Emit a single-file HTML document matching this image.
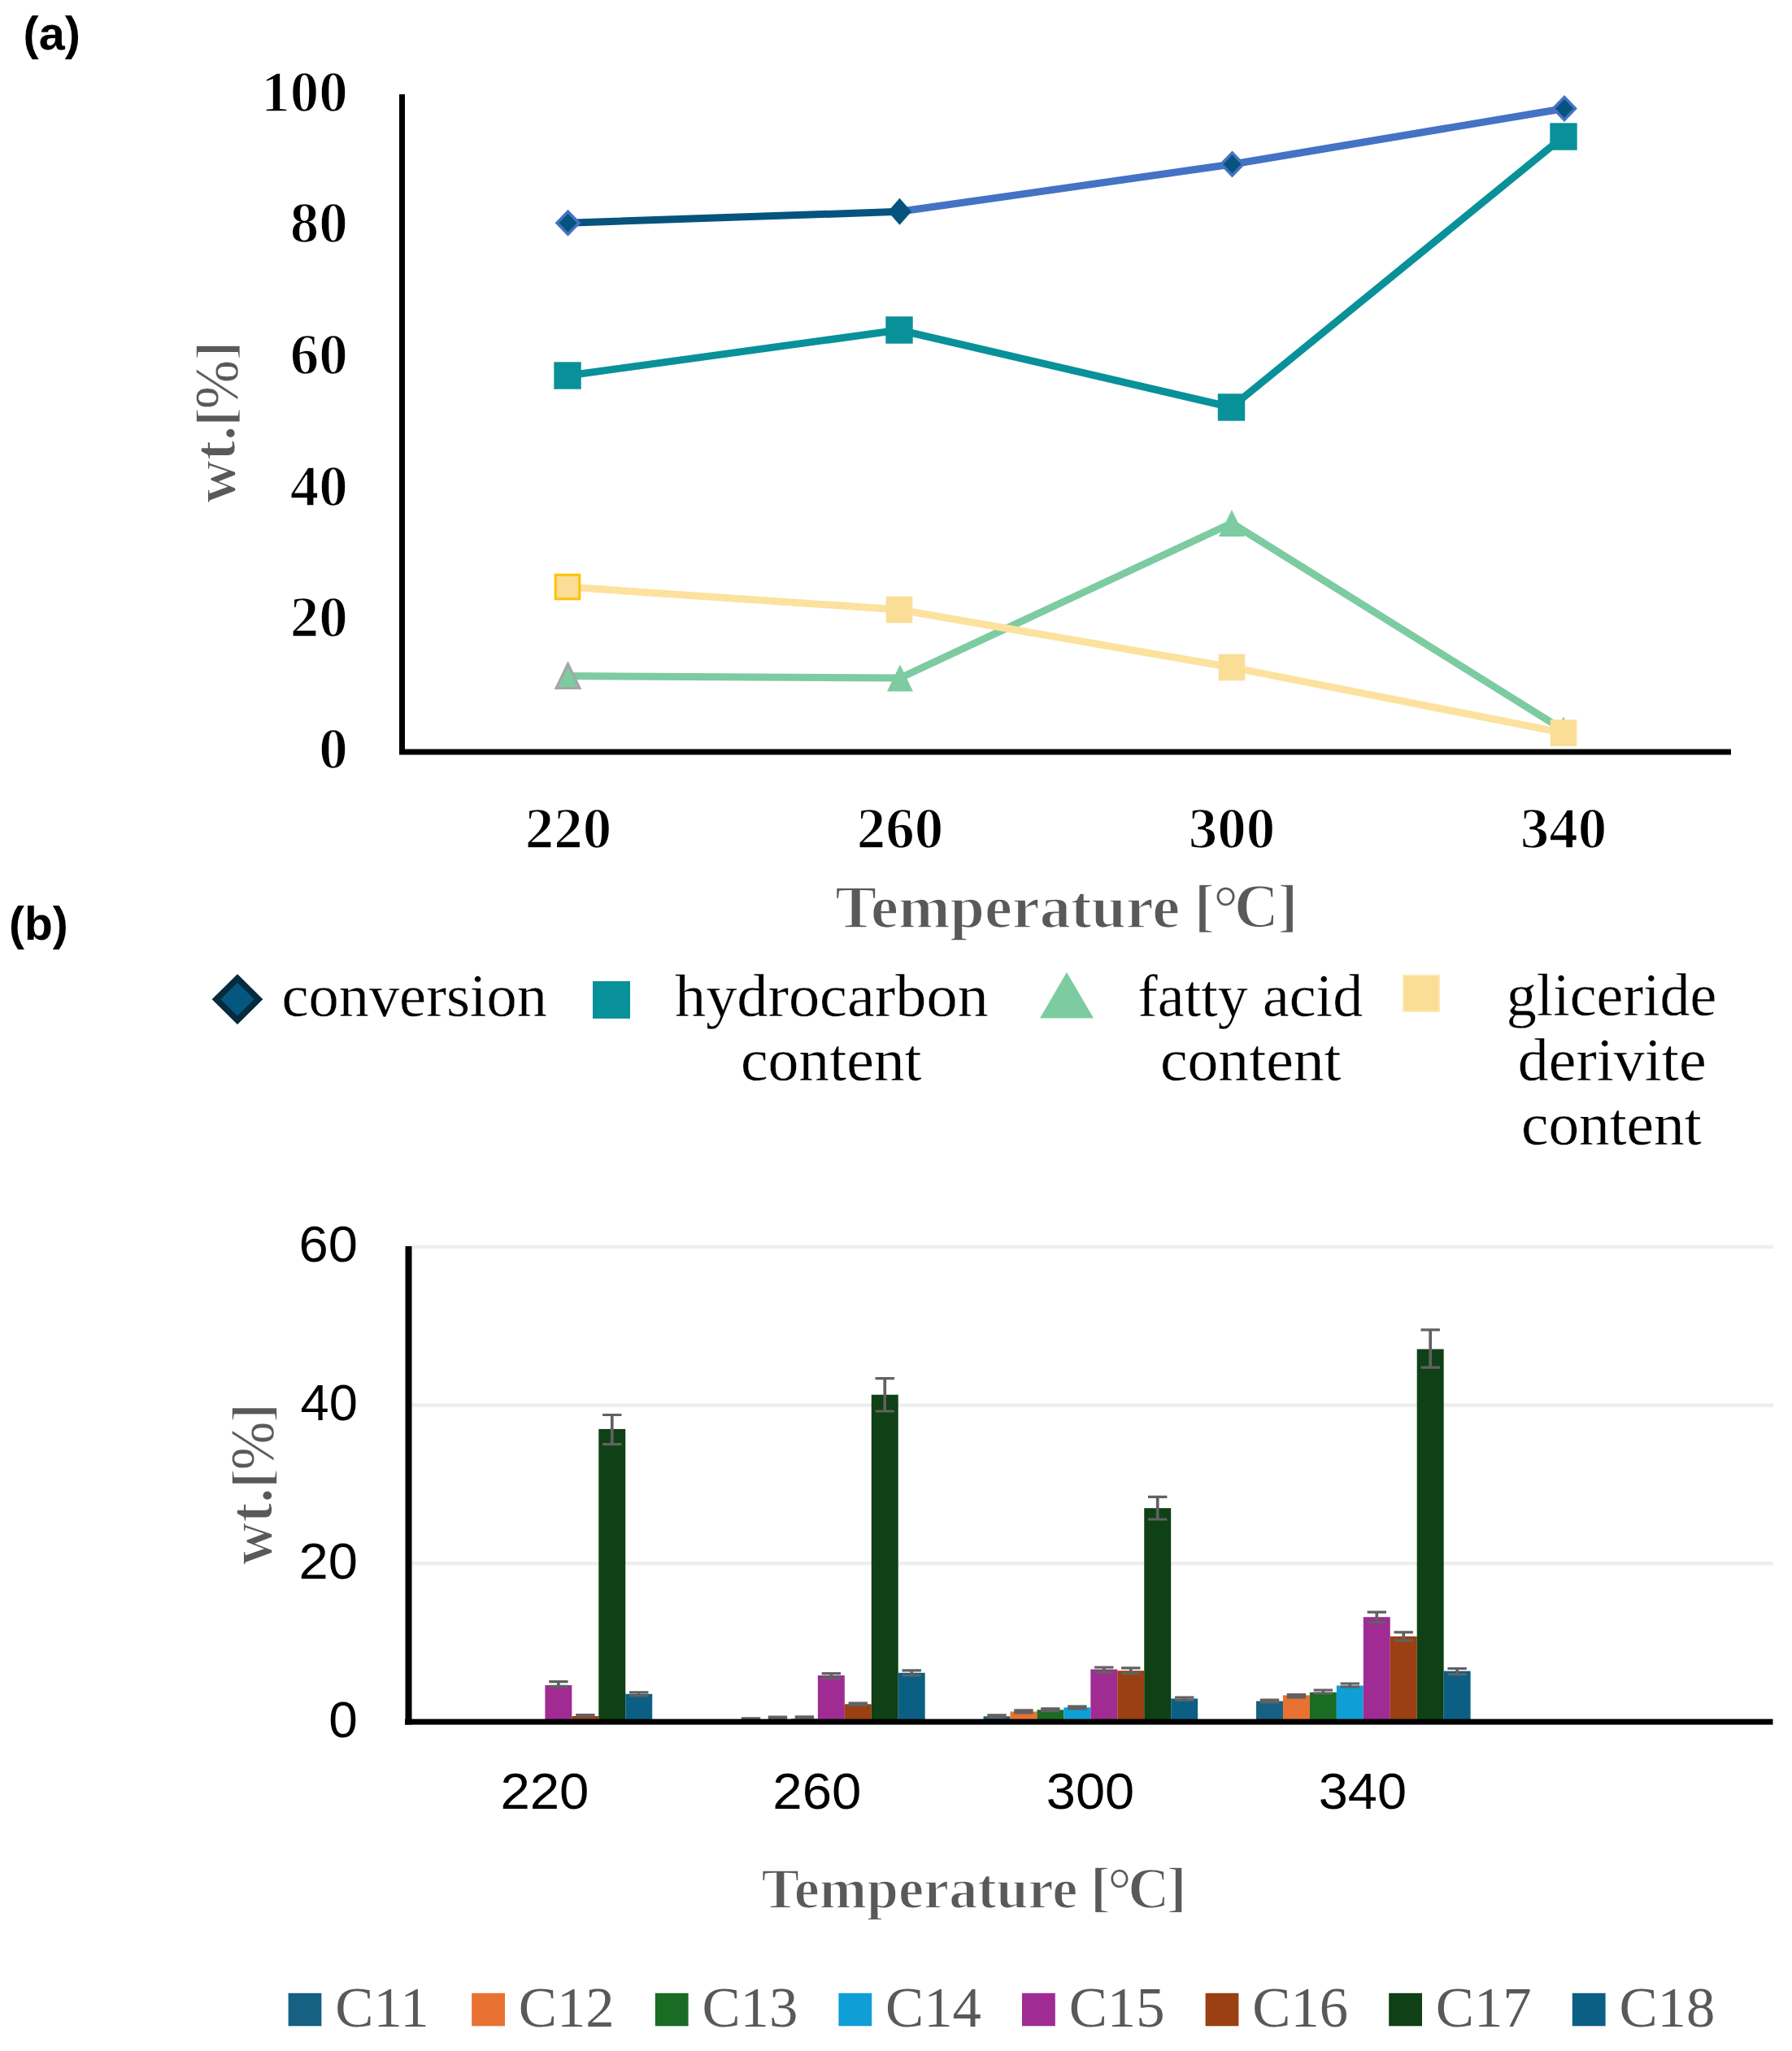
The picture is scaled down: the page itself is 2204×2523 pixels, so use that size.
<!DOCTYPE html>
<html><head><meta charset="utf-8"><title>Figure</title>
<style>html,body{margin:0;padding:0;background:#fff;} svg{display:block;} .eb{stroke:#fff;stroke-width:1.6;} .er{stroke:#fff;stroke-width:0.35;}</style>
</head><body>
<svg width="2204" height="2523" viewBox="0 0 2204 2523">
<rect x="0" y="0" width="2204" height="2523" fill="#ffffff"/>
<text x="28.52" y="60.50" font-family="'Liberation Sans', Arial, sans-serif" font-weight="bold" font-size="57.5" fill="#000">(a)</text>
<text x="10.95" y="1156.20" font-family="'Liberation Sans', Arial, sans-serif" font-weight="bold" font-size="57" fill="#000">(b)</text>
<text class="eb" x="321.34" y="136.80" font-family="'Liberation Serif', serif" font-weight="bold" font-size="71" fill="#000">100</text>
<text class="eb" x="356.84" y="298.40" font-family="'Liberation Serif', serif" font-weight="bold" font-size="71" fill="#000">80</text>
<text class="eb" x="356.84" y="460.00" font-family="'Liberation Serif', serif" font-weight="bold" font-size="71" fill="#000">60</text>
<text class="eb" x="356.84" y="621.60" font-family="'Liberation Serif', serif" font-weight="bold" font-size="71" fill="#000">40</text>
<text class="eb" x="356.84" y="783.20" font-family="'Liberation Serif', serif" font-weight="bold" font-size="71" fill="#000">20</text>
<text class="eb" x="392.34" y="944.80" font-family="'Liberation Serif', serif" font-weight="bold" font-size="71" fill="#000">0</text>
<text class="eb" x="699" y="1042.5" text-anchor="middle" font-family="'Liberation Serif', serif" font-weight="bold" font-size="71" fill="#000">220</text>
<text class="eb" x="1107" y="1042.5" text-anchor="middle" font-family="'Liberation Serif', serif" font-weight="bold" font-size="71" fill="#000">260</text>
<text class="eb" x="1515" y="1042.5" text-anchor="middle" font-family="'Liberation Serif', serif" font-weight="bold" font-size="71" fill="#000">300</text>
<text class="eb" x="1923" y="1042.5" text-anchor="middle" font-family="'Liberation Serif', serif" font-weight="bold" font-size="71" fill="#000">340</text>
<text class="eb" x="1027.15" y="1140.50" font-family="'Liberation Serif', serif" font-weight="bold" font-size="75" fill="#595959" textLength="424.04" lengthAdjust="spacingAndGlyphs">Temperature</text>
<text class="eb" x="1468.74" y="1137.69" font-family="'Liberation Serif', serif" font-weight="bold" font-size="72.65" fill="#595959" textLength="25.13" lengthAdjust="spacingAndGlyphs">[</text>
<text class="eb" x="1491.99" y="1144.04" font-family="'Liberation Serif', serif" font-weight="bold" font-size="80.66" fill="#595959" textLength="31.21" lengthAdjust="spacingAndGlyphs">°</text>
<text class="eb" x="1518.02" y="1140.34" font-family="'Liberation Serif', serif" font-weight="bold" font-size="76.28" fill="#595959" textLength="54.62" lengthAdjust="spacingAndGlyphs">C</text>
<text class="eb" x="1571.50" y="1137.69" font-family="'Liberation Serif', serif" font-weight="bold" font-size="72.65" fill="#595959" textLength="24.72" lengthAdjust="spacingAndGlyphs">]</text>
<text class="eb" transform="translate(289.28,618.78) rotate(-90)" x="0" y="0" font-family="'Liberation Serif', serif" font-weight="bold" font-size="74.83" fill="#595959" textLength="94.99" lengthAdjust="spacingAndGlyphs">wt.</text>
<text class="eb" transform="translate(287.32,524.83) rotate(-90)" x="0" y="0" font-family="'Liberation Serif', serif" font-weight="bold" font-size="66.51" fill="#595959" textLength="24.10" lengthAdjust="spacingAndGlyphs">[</text>
<text class="er" transform="translate(291.65,503.13) rotate(-90)" x="0" y="0" font-family="'Liberation Serif', serif" font-weight="normal" font-size="76.01" fill="#595959" textLength="60.11" lengthAdjust="spacingAndGlyphs">%</text>
<text class="eb" transform="translate(287.32,443.60) rotate(-90)" x="0" y="0" font-family="'Liberation Serif', serif" font-weight="bold" font-size="66.51" fill="#595959" textLength="23.83" lengthAdjust="spacingAndGlyphs">]</text>
<rect x="491" y="116" width="7" height="811" fill="#000"/>
<rect x="491" y="921.5" width="1638" height="7" fill="#000"/>
<line x1="698.5" y1="274.3" x2="1106.5" y2="260.3" stroke="#06547D" stroke-width="9" stroke-linecap="round"/>
<polyline points="1106.5,260.3 1515.5,202 1924,133.5" fill="none" stroke="#4472C4" stroke-width="9" stroke-linejoin="round" stroke-linecap="round"/>
<polygon points="698.5,260.3 712.0,274.3 698.5,288.3 685.0,274.3" fill="#06547D" stroke="#4472C4" stroke-width="3.5"/>
<polygon points="1106.5,243.8 1121.0,260.3 1106.5,276.8 1092.0,260.3" fill="#06547D"/>
<polygon points="1515.5,188 1529.0,202 1515.5,216 1502.0,202" fill="#06547D" stroke="#4472C4" stroke-width="3.5"/>
<polygon points="1924,119.5 1937.5,133.5 1924,147.5 1910.5,133.5" fill="#06547D" stroke="#4472C4" stroke-width="3.5"/>
<polyline points="698,462 1106,406 1514.5,501 1923,168" fill="none" stroke="#099199" stroke-width="9" stroke-linejoin="round" stroke-linecap="round"/>
<rect x="681.3" y="445.3" width="33.4" height="33.4" fill="#099199"/>
<rect x="1089.3" y="389.3" width="33.4" height="33.4" fill="#099199"/>
<rect x="1497.8" y="484.3" width="33.4" height="33.4" fill="#099199"/>
<rect x="1906.3" y="151.3" width="33.4" height="33.4" fill="#099199"/>
<polyline points="698.5,831.5 1107,834 1515,643.5 1923,898" fill="none" stroke="#7DCBA1" stroke-width="9" stroke-linejoin="round" stroke-linecap="round"/>
<polygon points="698.5,816.5 713.0,846.5 684.0,846.5" fill="#7DCBA1" stroke="#A5A5A5" stroke-width="3" stroke-linejoin="miter"/>
<polygon points="1107,817.5 1123,850.5 1091,850.5" fill="#7DCBA1"/>
<polygon points="1515,627.0 1531,660.0 1499,660.0" fill="#7DCBA1"/>
<polygon points="1923,881.5 1939,914.5 1907,914.5" fill="#7DCBA1"/>
<polyline points="698,722 1106,750 1515,821 1923,901.6" fill="none" stroke="#FCE29E" stroke-width="9" stroke-linejoin="round" stroke-linecap="round"/>
<rect x="683.2" y="707.2" width="29.6" height="29.6" fill="#FADD96" stroke="#FFC000" stroke-width="3"/>
<rect x="1089.7" y="733.7" width="32.6" height="32.6" fill="#FADD96"/>
<rect x="1498.7" y="804.7" width="32.6" height="32.6" fill="#FADD96"/>
<rect x="1906.7" y="885.3000000000001" width="32.6" height="32.6" fill="#FADD96"/>
<polygon points="292,1203.5 318,1229.2 292,1255 266,1229.2" fill="#055780" stroke="#062A3E" stroke-width="7.5"/>
<rect x="729" y="1207" width="46" height="46" fill="#099199"/>
<polygon points="1312,1196 1345,1252.6 1279,1252.6" fill="#7DCBA1"/>
<rect x="1726" y="1200" width="44" height="44" fill="#FADD96" stroke="#FDE8AE" stroke-width="2"/>
<text class="er" x="346.52" y="1249.50" font-family="'Liberation Serif', serif" font-weight="normal" font-size="73" fill="#000" textLength="326.42" lengthAdjust="spacingAndGlyphs">conversion</text>
<text class="er" x="830.04" y="1250.00" font-family="'Liberation Serif', serif" font-weight="normal" font-size="73" fill="#000" textLength="385.71" lengthAdjust="spacingAndGlyphs">hydrocarbon</text>
<text class="er" x="910.97" y="1329.40" font-family="'Liberation Serif', serif" font-weight="normal" font-size="73" fill="#000" textLength="222.65" lengthAdjust="spacingAndGlyphs">content</text>
<text class="er" x="1399.28" y="1249.60" font-family="'Liberation Serif', serif" font-weight="normal" font-size="73" fill="#000" textLength="276.80" lengthAdjust="spacingAndGlyphs">fatty acid</text>
<text class="er" x="1426.97" y="1328.70" font-family="'Liberation Serif', serif" font-weight="normal" font-size="73" fill="#000" textLength="222.65" lengthAdjust="spacingAndGlyphs">content</text>
<text class="er" x="1852.67" y="1249.00" font-family="'Liberation Serif', serif" font-weight="normal" font-size="73" fill="#000" textLength="258.77" lengthAdjust="spacingAndGlyphs">gliceride</text>
<text class="er" x="1866.84" y="1328.50" font-family="'Liberation Serif', serif" font-weight="normal" font-size="73" fill="#000" textLength="231.75" lengthAdjust="spacingAndGlyphs">derivite</text>
<text class="er" x="1870.99" y="1408.00" font-family="'Liberation Serif', serif" font-weight="normal" font-size="73" fill="#000" textLength="221.64" lengthAdjust="spacingAndGlyphs">content</text>
<rect x="506" y="1531.55" width="1675" height="4.5" fill="#EEEEEE"/>
<rect x="506" y="1726.25" width="1675" height="4.5" fill="#EEEEEE"/>
<rect x="506" y="1920.95" width="1675" height="4.5" fill="#EEEEEE"/>
<text x="367.55" y="1552.10" font-family="'Liberation Sans', Arial, sans-serif" font-weight="normal" font-size="63" fill="#000" textLength="72.38" lengthAdjust="spacingAndGlyphs">60</text>
<text x="369.54" y="1746.90" font-family="'Liberation Sans', Arial, sans-serif" font-weight="normal" font-size="63" fill="#000" textLength="70.33" lengthAdjust="spacingAndGlyphs">40</text>
<text x="367.55" y="1941.70" font-family="'Liberation Sans', Arial, sans-serif" font-weight="normal" font-size="63" fill="#000" textLength="72.38" lengthAdjust="spacingAndGlyphs">20</text>
<text x="404.24" y="2136.50" font-family="'Liberation Sans', Arial, sans-serif" font-weight="normal" font-size="63" fill="#000" textLength="35.57" lengthAdjust="spacingAndGlyphs">0</text>
<text x="615.43" y="2224.60" font-family="'Liberation Sans', Arial, sans-serif" font-weight="normal" font-size="63" fill="#000" textLength="108.98" lengthAdjust="spacingAndGlyphs">220</text>
<text x="950.33" y="2224.60" font-family="'Liberation Sans', Arial, sans-serif" font-weight="normal" font-size="63" fill="#000" textLength="108.98" lengthAdjust="spacingAndGlyphs">260</text>
<text x="1286.80" y="2224.60" font-family="'Liberation Sans', Arial, sans-serif" font-weight="normal" font-size="63" fill="#000" textLength="108.30" lengthAdjust="spacingAndGlyphs">300</text>
<text x="1621.70" y="2224.60" font-family="'Liberation Sans', Arial, sans-serif" font-weight="normal" font-size="63" fill="#000" textLength="108.30" lengthAdjust="spacingAndGlyphs">340</text>
<text class="eb" x="936.45" y="2346.50" font-family="'Liberation Serif', serif" font-weight="bold" font-size="70" fill="#595959">Temperature</text>
<text class="eb" x="1340.71" y="2343.66" font-family="'Liberation Serif', serif" font-weight="bold" font-size="68.43" fill="#595959" textLength="24.83" lengthAdjust="spacingAndGlyphs">[</text>
<text class="eb" x="1362.04" y="2351.24" font-family="'Liberation Serif', serif" font-weight="bold" font-size="77.36" fill="#595959" textLength="29.90" lengthAdjust="spacingAndGlyphs">°</text>
<text class="eb" x="1387.28" y="2346.89" font-family="'Liberation Serif', serif" font-weight="bold" font-size="71.08" fill="#595959" textLength="50.86" lengthAdjust="spacingAndGlyphs">C</text>
<text class="eb" x="1434.87" y="2343.66" font-family="'Liberation Serif', serif" font-weight="bold" font-size="68.43" fill="#595959" textLength="25.02" lengthAdjust="spacingAndGlyphs">]</text>
<text class="eb" transform="translate(333.76,1925.08) rotate(-90)" x="0" y="0" font-family="'Liberation Serif', serif" font-weight="bold" font-size="75.86" fill="#595959" textLength="94.47" lengthAdjust="spacingAndGlyphs">wt.</text>
<text class="eb" transform="translate(331.55,1831.33) rotate(-90)" x="0" y="0" font-family="'Liberation Serif', serif" font-weight="bold" font-size="68.55" fill="#595959" textLength="24.99" lengthAdjust="spacingAndGlyphs">[</text>
<text class="er" transform="translate(335.55,1808.30) rotate(-90)" x="0" y="0" font-family="'Liberation Serif', serif" font-weight="normal" font-size="76.01" fill="#595959" textLength="59.56" lengthAdjust="spacingAndGlyphs">%</text>
<text class="eb" transform="translate(331.55,1749.90) rotate(-90)" x="0" y="0" font-family="'Liberation Serif', serif" font-weight="bold" font-size="68.55" fill="#595959" textLength="23.83" lengthAdjust="spacingAndGlyphs">]</text>
<rect x="670.40" y="2073.00" width="32.95" height="45.00" fill="#A02B93"/>
<rect x="703.35" y="2111.00" width="32.95" height="7.00" fill="#9A4012"/>
<rect x="736.30" y="1757.90" width="32.95" height="360.10" fill="#0F4016"/>
<rect x="769.25" y="2083.80" width="32.95" height="34.20" fill="#0C5F84"/>
<rect x="907.02" y="2115.50" width="32.95" height="2.50" fill="#E97132"/>
<rect x="939.97" y="2115.00" width="32.95" height="3.00" fill="#1A6B24"/>
<rect x="972.92" y="2114.00" width="32.95" height="4.00" fill="#0F9ED5"/>
<rect x="1005.87" y="2061.00" width="32.95" height="57.00" fill="#A02B93"/>
<rect x="1038.82" y="2096.30" width="32.95" height="21.70" fill="#9A4012"/>
<rect x="1071.77" y="1715.70" width="32.95" height="402.30" fill="#0F4016"/>
<rect x="1104.72" y="2057.80" width="32.95" height="60.20" fill="#0C5F84"/>
<rect x="1209.54" y="2111.30" width="32.95" height="6.70" fill="#166083"/>
<rect x="1242.49" y="2105.50" width="32.95" height="12.50" fill="#E97132"/>
<rect x="1275.44" y="2103.30" width="32.95" height="14.70" fill="#1A6B24"/>
<rect x="1308.39" y="2100.40" width="32.95" height="17.60" fill="#0F9ED5"/>
<rect x="1341.34" y="2053.50" width="32.95" height="64.50" fill="#A02B93"/>
<rect x="1374.29" y="2055.20" width="32.95" height="62.80" fill="#9A4012"/>
<rect x="1407.24" y="1855.20" width="32.95" height="262.80" fill="#0F4016"/>
<rect x="1440.19" y="2089.50" width="32.95" height="28.50" fill="#0C5F84"/>
<rect x="1545.01" y="2092.60" width="32.95" height="25.40" fill="#166083"/>
<rect x="1577.96" y="2085.40" width="32.95" height="32.60" fill="#E97132"/>
<rect x="1610.91" y="2081.80" width="32.95" height="36.20" fill="#1A6B24"/>
<rect x="1643.86" y="2073.50" width="32.95" height="44.50" fill="#0F9ED5"/>
<rect x="1676.81" y="1989.20" width="32.95" height="128.80" fill="#A02B93"/>
<rect x="1709.76" y="2013.00" width="32.95" height="105.00" fill="#9A4012"/>
<rect x="1742.71" y="1659.60" width="32.95" height="458.40" fill="#0F4016"/>
<rect x="1775.66" y="2055.60" width="32.95" height="62.40" fill="#0C5F84"/>
<path d="M686.88,2068.7 V2074.3" stroke="#616161" stroke-width="3.7" fill="none"/>
<path d="M675.18,2068.7 H698.58 M675.18,2074.3 H698.58" stroke="#616161" stroke-width="3.2" fill="none"/>
<path d="M719.83,2109.6 V2110.6" stroke="#616161" stroke-width="3.7" fill="none"/>
<path d="M708.13,2109.6 H731.53 M708.13,2110.6 H731.53" stroke="#616161" stroke-width="3.2" fill="none"/>
<path d="M752.78,1740.5 V1776.7" stroke="#616161" stroke-width="3.7" fill="none"/>
<path d="M741.08,1740.5 H764.48 M741.08,1776.7 H764.48" stroke="#616161" stroke-width="3.2" fill="none"/>
<path d="M785.73,2081.9 V2086" stroke="#616161" stroke-width="3.7" fill="none"/>
<path d="M774.03,2081.9 H797.43 M774.03,2086 H797.43" stroke="#616161" stroke-width="3.2" fill="none"/>
<path d="M923.50,2113.8 V2115" stroke="#616161" stroke-width="3.7" fill="none"/>
<path d="M911.80,2113.8 H935.20 M911.80,2115 H935.20" stroke="#616161" stroke-width="3.2" fill="none"/>
<path d="M956.45,2112 V2113.6" stroke="#616161" stroke-width="3.7" fill="none"/>
<path d="M944.75,2112 H968.15 M944.75,2113.6 H968.15" stroke="#616161" stroke-width="3.2" fill="none"/>
<path d="M989.40,2111.8 V2113.4" stroke="#616161" stroke-width="3.7" fill="none"/>
<path d="M977.70,2111.8 H1001.10 M977.70,2113.4 H1001.10" stroke="#616161" stroke-width="3.2" fill="none"/>
<path d="M1022.35,2058.6 V2064.3" stroke="#616161" stroke-width="3.7" fill="none"/>
<path d="M1010.65,2058.6 H1034.05 M1010.65,2064.3 H1034.05" stroke="#616161" stroke-width="3.2" fill="none"/>
<path d="M1055.30,2095 V2097.5" stroke="#616161" stroke-width="3.7" fill="none"/>
<path d="M1043.60,2095 H1067.00 M1043.60,2097.5 H1067.00" stroke="#616161" stroke-width="3.2" fill="none"/>
<path d="M1088.25,1695.7 V1736" stroke="#616161" stroke-width="3.7" fill="none"/>
<path d="M1076.55,1695.7 H1099.95 M1076.55,1736 H1099.95" stroke="#616161" stroke-width="3.2" fill="none"/>
<path d="M1121.20,2054.9 V2061" stroke="#616161" stroke-width="3.7" fill="none"/>
<path d="M1109.50,2054.9 H1132.90 M1109.50,2061 H1132.90" stroke="#616161" stroke-width="3.2" fill="none"/>
<path d="M1226.01,2109.8 V2112.5" stroke="#616161" stroke-width="3.7" fill="none"/>
<path d="M1214.31,2109.8 H1237.71 M1214.31,2112.5 H1237.71" stroke="#616161" stroke-width="3.2" fill="none"/>
<path d="M1258.96,2103.8 V2106.8" stroke="#616161" stroke-width="3.7" fill="none"/>
<path d="M1247.26,2103.8 H1270.66 M1247.26,2106.8 H1270.66" stroke="#616161" stroke-width="3.2" fill="none"/>
<path d="M1291.91,2101.8 V2104.6" stroke="#616161" stroke-width="3.7" fill="none"/>
<path d="M1280.21,2101.8 H1303.62 M1280.21,2104.6 H1303.62" stroke="#616161" stroke-width="3.2" fill="none"/>
<path d="M1324.86,2099 V2101.8" stroke="#616161" stroke-width="3.7" fill="none"/>
<path d="M1313.16,2099 H1336.56 M1313.16,2101.8 H1336.56" stroke="#616161" stroke-width="3.2" fill="none"/>
<path d="M1357.81,2051 V2057.7" stroke="#616161" stroke-width="3.7" fill="none"/>
<path d="M1346.11,2051 H1369.51 M1346.11,2057.7 H1369.51" stroke="#616161" stroke-width="3.2" fill="none"/>
<path d="M1390.76,2051.9 V2058.6" stroke="#616161" stroke-width="3.7" fill="none"/>
<path d="M1379.06,2051.9 H1402.46 M1379.06,2058.6 H1402.46" stroke="#616161" stroke-width="3.2" fill="none"/>
<path d="M1423.71,1841.4 V1869" stroke="#616161" stroke-width="3.7" fill="none"/>
<path d="M1412.01,1841.4 H1435.41 M1412.01,1869 H1435.41" stroke="#616161" stroke-width="3.2" fill="none"/>
<path d="M1456.66,2088 V2091.5" stroke="#616161" stroke-width="3.7" fill="none"/>
<path d="M1444.96,2088 H1468.37 M1444.96,2091.5 H1468.37" stroke="#616161" stroke-width="3.2" fill="none"/>
<path d="M1561.49,2091 V2094" stroke="#616161" stroke-width="3.7" fill="none"/>
<path d="M1549.79,2091 H1573.19 M1549.79,2094 H1573.19" stroke="#616161" stroke-width="3.2" fill="none"/>
<path d="M1594.44,2084.7 V2087.8" stroke="#616161" stroke-width="3.7" fill="none"/>
<path d="M1582.74,2084.7 H1606.14 M1582.74,2087.8 H1606.14" stroke="#616161" stroke-width="3.2" fill="none"/>
<path d="M1627.39,2079 V2083" stroke="#616161" stroke-width="3.7" fill="none"/>
<path d="M1615.69,2079 H1639.09 M1615.69,2083 H1639.09" stroke="#616161" stroke-width="3.2" fill="none"/>
<path d="M1660.34,2071 V2075" stroke="#616161" stroke-width="3.7" fill="none"/>
<path d="M1648.63,2071 H1672.04 M1648.63,2075 H1672.04" stroke="#616161" stroke-width="3.2" fill="none"/>
<path d="M1693.29,1983.2 V1995.9" stroke="#616161" stroke-width="3.7" fill="none"/>
<path d="M1681.59,1983.2 H1704.99 M1681.59,1995.9 H1704.99" stroke="#616161" stroke-width="3.2" fill="none"/>
<path d="M1726.24,2007.8 V2018" stroke="#616161" stroke-width="3.7" fill="none"/>
<path d="M1714.54,2007.8 H1737.94 M1714.54,2018 H1737.94" stroke="#616161" stroke-width="3.2" fill="none"/>
<path d="M1759.19,1635.8 V1682.2" stroke="#616161" stroke-width="3.7" fill="none"/>
<path d="M1747.49,1635.8 H1770.89 M1747.49,1682.2 H1770.89" stroke="#616161" stroke-width="3.2" fill="none"/>
<path d="M1792.14,2052.5 V2059.6" stroke="#616161" stroke-width="3.7" fill="none"/>
<path d="M1780.44,2052.5 H1803.84 M1780.44,2059.6 H1803.84" stroke="#616161" stroke-width="3.2" fill="none"/>
<rect x="498.5" y="1533" width="8" height="588.5" fill="#000"/>
<rect x="498" y="2114.6" width="1682.5" height="7" fill="#000"/>
<rect x="354.60" y="2451.8" width="40.8" height="40.5" fill="#166083"/>
<text x="412.27" y="2492.6" font-family="'Liberation Serif', serif" font-size="70.7" fill="#595959">C11</text>
<rect x="580.20" y="2451.8" width="40.8" height="40.5" fill="#E97132"/>
<text x="637.87" y="2492.6" font-family="'Liberation Serif', serif" font-size="70.7" fill="#595959">C12</text>
<rect x="805.80" y="2451.8" width="40.8" height="40.5" fill="#1A6B24"/>
<text x="863.47" y="2492.6" font-family="'Liberation Serif', serif" font-size="70.7" fill="#595959">C13</text>
<rect x="1031.40" y="2451.8" width="40.8" height="40.5" fill="#0F9ED5"/>
<text x="1089.07" y="2492.6" font-family="'Liberation Serif', serif" font-size="70.7" fill="#595959">C14</text>
<rect x="1257.00" y="2451.8" width="40.8" height="40.5" fill="#A02B93"/>
<text x="1314.67" y="2492.6" font-family="'Liberation Serif', serif" font-size="70.7" fill="#595959">C15</text>
<rect x="1482.60" y="2451.8" width="40.8" height="40.5" fill="#9A4012"/>
<text x="1540.27" y="2492.6" font-family="'Liberation Serif', serif" font-size="70.7" fill="#595959">C16</text>
<rect x="1708.20" y="2451.8" width="40.8" height="40.5" fill="#0F4016"/>
<text x="1765.87" y="2492.6" font-family="'Liberation Serif', serif" font-size="70.7" fill="#595959">C17</text>
<rect x="1933.80" y="2451.8" width="40.8" height="40.5" fill="#0C5F84"/>
<text x="1991.47" y="2492.6" font-family="'Liberation Serif', serif" font-size="70.7" fill="#595959">C18</text>
</svg>
</body></html>
